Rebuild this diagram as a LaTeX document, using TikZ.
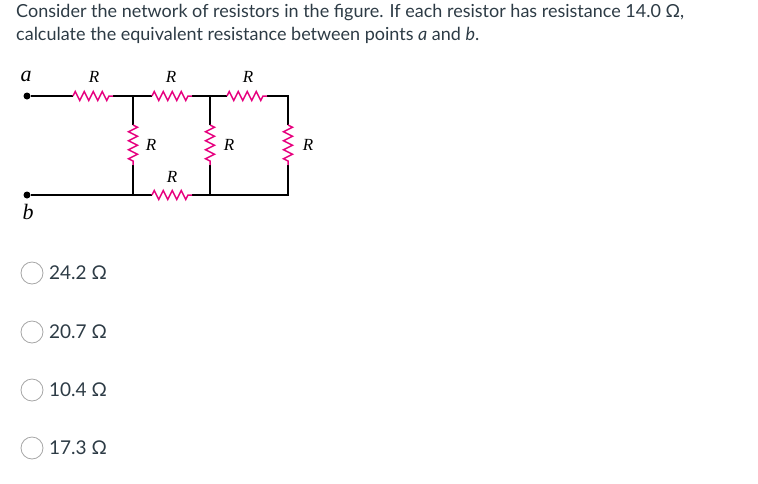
\documentclass[tikz,border=0pt]{standalone}
\usepackage{fontspec}
\setmainfont{Lato}
\newfontfamily\labfont{Liberation Serif}
\usetikzlibrary{decorations.pathmorphing}
\definecolor{pink}{HTML}{E6007E}
\definecolor{txt}{HTML}{2D3B45}
\tikzset{
  wire/.style={line width=1.6pt,black},
  res/.style={line width=1.5pt,pink,decorate,decoration={zigzag,amplitude=4.5pt,segment length=9pt}},
  lab/.style={font=\labfont\fontsize{17}{17}\selectfont\itshape},
  ab/.style={font=\labfont\fontsize{22}{22}\selectfont\itshape},
  q/.style={font=\fontsize{18}{22}\selectfont,text=txt,anchor=west,inner sep=0},
  qo/.style={q,font=\fontsize{19}{22}\selectfont},
  opt/.style={circle,draw=gray!70,line width=0.8pt,minimum size=22pt,inner sep=0},
  dot/.style={circle,fill=black,inner sep=0,minimum size=7pt}
}
\begin{document}
\begin{tikzpicture}[x=1pt,y=-1pt]
\useasboundingbox (0,0) rectangle (758,483);
\node[q] (t1) at (16,13) {Consider the network of resistors in the figure. If each resistor has resistance 14.0 Ω,};
\node[q] (t2) at (16,35) {calculate the equivalent resistance between points \textit{a} and \textit{b}.};
\node[dot] (a) at (27,96) {};
\node[dot] (b) at (27,195) {};
\coordinate (j1) at (133,96); \coordinate (j2) at (210,96); \coordinate (j3) at (288,96);
\coordinate (k1) at (133,195); \coordinate (k2) at (210,195); \coordinate (k3) at (288,195);
\coordinate (r1a) at (73,96); \coordinate (r1b) at (113,96);
\coordinate (r2a) at (152,96); \coordinate (r2b) at (192,96);
\coordinate (r3a) at (227,96); \coordinate (r3b) at (267,96);
\coordinate (r4a) at (152,195); \coordinate (r4b) at (192,195);
\coordinate (v1a) at (133,125); \coordinate (v1b) at (133,165);
\coordinate (v2a) at (210,125); \coordinate (v2b) at (210,165);
\coordinate (v3a) at (288,125); \coordinate (v3b) at (288,165);
\draw[wire] (a) -- (r1a) (r1b) -- (r2a) (r2b) -- (r3a) (r3b) -- (j3) -- (v3a);
\draw[wire] (v3b) -- (k3) -- (r4b) (r4a) -- (b);
\draw[wire] (j1) -- (v1a) (v1b) -- (k1) (j2) -- (v2a) (v2b) -- (k2);
\foreach \p in {r1,r2,r3,r4,v1,v2,v3} \draw[res] (\p a) -- (\p b);
\node[ab] (la) at (26,76) {a};
\node[ab] (lb) at (28,212) {b};
\node[lab] (l1) at (94,77) {R};
\node[lab] (l2) at (171,77) {R};
\node[lab] (l3) at (248,77) {R};
\node[lab] (l4) at (151,145) {R};
\node[lab] (l5) at (229,145) {R};
\node[lab] (l6) at (308,145) {R};
\node[lab] (l7) at (172,177) {R};
\foreach \y/\v [count=\i] in {273/24.2,332/20.7,390/10.4,448/17.3}{
  \node[opt] (o\i) at (32,\y) {};
  \node[qo] (ot\i) at (49,\y) {\v\ Ω};
}
\end{tikzpicture}
\end{document}
